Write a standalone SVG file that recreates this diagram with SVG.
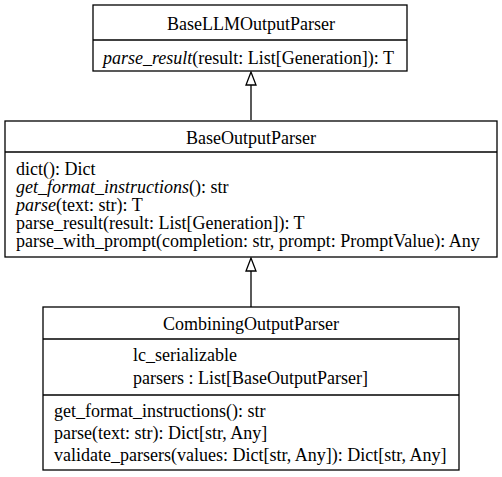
<svg xmlns="http://www.w3.org/2000/svg" width="502" height="477" viewBox="0 0 502 477">
<style>
.box{fill:#fff;stroke:#000;stroke-width:1.3}
.sep{stroke:#000;stroke-width:1.3}
text{font-family:"Liberation Serif","Times New Roman",serif;font-size:18px;fill:#000}
.t{text-anchor:middle}
.i{font-style:italic}
.edge{stroke:#000;stroke-width:1.3;fill:none}
.head{fill:#fff;stroke:#000;stroke-width:1.3}
</style>
<rect width="502" height="477" fill="#fff"/>
<g id="connectors">
<line class="edge" x1="251" y1="120" x2="251" y2="85"/>
<polygon class="head" points="251,72 246,85 256,85"/>
<line class="edge" x1="251" y1="307" x2="251" y2="271"/>
<polygon class="head" points="251,258 246,271 256,271"/>
</g>
<g id="BaseLLMOutputParser">
<rect class="box" x="93" y="5" width="314" height="66"/>
<line class="sep" x1="93" y1="40" x2="407" y2="40"/>
<text class="t" x="251" y="30">BaseLLMOutputParser</text>
<text x="103" y="64"><tspan class="i">parse_result</tspan>(result: List[Generation]): T</text>
</g>
<g id="BaseOutputParser">
<rect class="box" x="5" y="121" width="492" height="136"/>
<line class="sep" x1="5" y1="152" x2="497" y2="152"/>
<text class="t" x="251" y="144">BaseOutputParser</text>
<text x="16" y="175">dict(): Dict</text>
<text x="16" y="193"><tspan class="i">get_format_instructions</tspan>(): str</text>
<text x="16" y="211"><tspan class="i">parse</tspan>(text: str): T</text>
<text x="16" y="229">parse_result(result: List[Generation]): T</text>
<text x="16" y="247">parse_with_prompt(completion: str, prompt: PromptValue): Any</text>
</g>
<g id="CombiningOutputParser">
<rect class="box" x="43" y="307" width="416" height="163"/>
<line class="sep" x1="43" y1="339" x2="459" y2="339"/>
<line class="sep" x1="43" y1="395" x2="459" y2="395"/>
<text class="t" x="251" y="330">CombiningOutputParser</text>
<text x="133" y="361">lc_serializable</text>
<text x="133" y="384">parsers : List[BaseOutputParser]</text>
<text x="54" y="417">get_format_instructions(): str</text>
<text x="54" y="439">parse(text: str): Dict[str, Any]</text>
<text x="54" y="461">validate_parsers(values: Dict[str, Any]): Dict[str, Any]</text>
</g>
</svg>
